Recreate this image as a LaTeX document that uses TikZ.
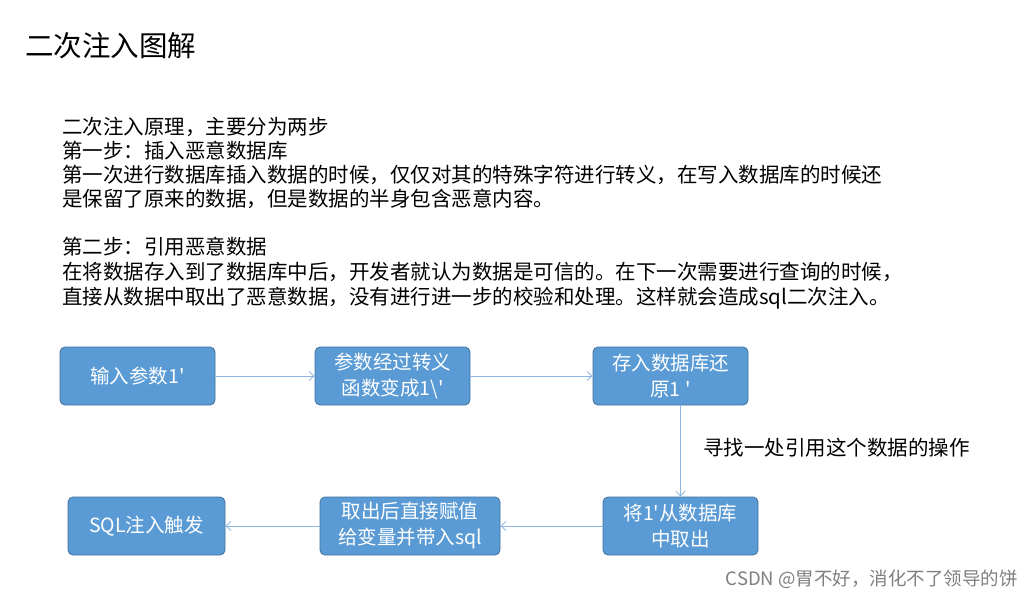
\documentclass[tikz,border=0pt]{standalone}
\usepackage{fontspec}
\usetikzlibrary{arrows.meta}
\setmainfont{Noto Sans CJK SC}
\newcommand{\q}{\textquotesingle}
\begin{document}
\begin{tikzpicture}[x=1pt,y=-1pt,
  box/.style={draw=boxborder,fill=boxfill,rounded corners=5pt,line width=0.8pt,text=white,align=center,font=\fontsize{19.5}{26}\selectfont,inner sep=0pt},
  arr/.style={draw=arrcol,line width=0.8pt,-{Straight Barb[length=5pt,width=9pt]}},
  body/.style={anchor=west,inner sep=0pt,font=\fontsize{20.5}{24}\selectfont}]
\definecolor{boxfill}{HTML}{5B9BD5}
\definecolor{boxborder}{HTML}{41719C}
\definecolor{arrcol}{HTML}{8EB4E3}
\useasboundingbox[fill=white] (0,0) rectangle (1034,597);
\node[anchor=west,inner sep=0pt,font=\fontsize{28.5}{34}\selectfont] (title) at (25,46) {二次注入图解};
\node[body] (l1) at (62,127) {二次注入原理，主要分为两步};
\node[body] (l2) at (62,151) {第一步：插入恶意数据库};
\node[body] (l3) at (62,175) {第一次进行数据库插入数据的时候，仅仅对其的特殊字符进行转义，在写入数据库的时候还};
\node[body] (l4) at (62,199) {是保留了原来的数据，但是数据的半身包含恶意内容。};
\node[body] (l5) at (62,247) {第二步：引用恶意数据};
\node[body] (l6) at (62,272) {在将数据存入到了数据库中后，开发者就认为数据是可信的。在下一次需要进行查询的时候，};
\node[body] (l7) at (62,298) {直接从数据中取出了恶意数据，没有进行进一步的校验和处理。这样就会造成sql二次注入。};
\node[box,minimum width=155pt,minimum height=58pt] (a) at (137.5,376) {输入参数1\q};
\node[box,minimum width=155pt,minimum height=58pt] (b) at (392.5,376) {参数经过转义\\函数变成1\textbackslash\q};
\node[box,minimum width=155pt,minimum height=58pt] (c) at (670.5,376) {存入数据库还\\原1 \q};
\node[box,minimum width=155pt,minimum height=58pt] (d) at (680.5,526) {将1\q 从数据库\\中取出};
\node[box,minimum width=180pt,minimum height=58pt] (e) at (410,526) {取出后直接赋值\\给变量并带入sql};
\node[box,minimum width=157pt,minimum height=58pt] (f) at (146.5,526) {SQL注入触发};
\draw[arr] (a) -- (b);
\draw[arr] (b) -- (c);
\draw[arr] (c.south -| d.north) -- (d.north);
\draw[arr] (d) -- (e);
\draw[arr] (e) -- (f);
\node[anchor=west,inner sep=0pt,font=\fontsize{20.5}{24}\selectfont] (lab) at (703,448) {寻找一处引用这个数据的操作};
\node[anchor=east,inner sep=0pt,text=gray,font=\fontsize{18.5}{22}\selectfont] (wm) at (1018,579) {CSDN @胃不好，消化不了领导的饼};
\end{tikzpicture}
\end{document}
